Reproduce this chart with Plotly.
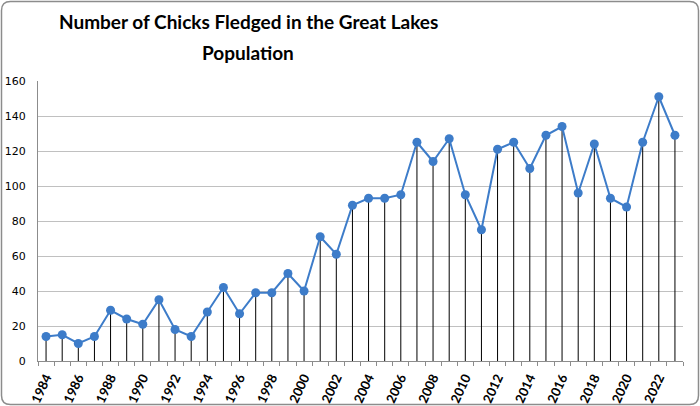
import plotly.graph_objects as go

years = list(range(1984, 2024))
chicks = [14, 15, 10, 14, 29, 24, 21, 35, 18, 14, 28, 42, 27, 39, 39, 50, 40, 71, 61, 89,
          93, 93, 95, 125, 114, 127, 95, 75, 121, 125, 110, 129, 134, 96, 124, 93, 88, 125, 151, 129]
tick_years = list(range(1984, 2024, 2))
title_lines = ["Number of Chicks Fledged in the Great Lakes", "Population"]

W, H = 700, 406
ml, mr, mt, mb = 38, 17, 81, 45
pw, ph = W - ml - mr, H - mt - mb

def px2paper(x, y):
    return (x - ml) / pw, (H - mb - y) / ph

fig = go.Figure()

# drop lines from each point to the axis
dx, dy = [], []
for xv, yv in zip(years, chicks):
    dx += [xv, xv, None]
    dy += [0, yv, None]
fig.add_trace(go.Scatter(x=dx, y=dy, mode="lines", line=dict(color="black", width=1),
                         hoverinfo="skip", showlegend=False))

fig.add_trace(go.Scatter(x=years, y=chicks, mode="lines+markers",
                         line=dict(color="#3d7cc9", width=2),
                         marker=dict(color="#3d7cc9", size=9),
                         showlegend=False))

# rounded border around the whole chart
r = 9
x0, y0, x1, y1 = 1.5, 1.5, 698.5, 404.5
def P(x, y):
    a, b = px2paper(x, y)
    return f"{a:.5f},{b:.5f}"
path = (f"M {P(x0 + r, y0)} L {P(x1 - r, y0)} Q {P(x1, y0)} {P(x1, y0 + r)} "
        f"L {P(x1, y1 - r)} Q {P(x1, y1)} {P(x1 - r, y1)} "
        f"L {P(x0 + r, y1)} Q {P(x0, y1)} {P(x0, y1 - r)} "
        f"L {P(x0, y0 + r)} Q {P(x0, y0)} {P(x0 + r, y0)} Z")
fig.add_shape(type="path", path=path, xref="paper", yref="paper",
              line=dict(color="#8c8c8c", width=1.5), layer="above")

# title as two centred lines
for txt, cy in zip(title_lines, [21, 53]):
    ax, ay = px2paper(248, cy)
    fig.add_annotation(text=f"<b>{txt}</b>", x=ax, y=ay, xref="paper", yref="paper",
                       xanchor="center", yanchor="middle", showarrow=False,
                       font=dict(family="Lato, Roboto, sans-serif", size=19, color="black"))

fig.update_layout(
    width=W, height=H,
    margin=dict(l=ml, r=mr, t=mt, b=mb),
    paper_bgcolor="white", plot_bgcolor="white",
    xaxis=dict(range=[1983.5, 2023.5], tickmode="array", tickvals=tick_years,
               ticktext=[str(t) for t in tick_years], tickangle=-65, automargin=False,
               showgrid=False, zeroline=False, showline=True, linecolor="#8c8c8c", linewidth=1,
               ticks="", ticklabelstandoff=3,
               tickfont=dict(family="Lato, Roboto, sans-serif", size=13, color="black", weight="bold"),
               minor=dict(tickmode="linear", tick0=1983.5, dtick=1, ticks="outside", ticklen=4,
                          tickcolor="#8c8c8c", showgrid=False)),
    yaxis=dict(range=[0, 160], dtick=20, showgrid=True, gridcolor="#c0c0c0", gridwidth=1,
               zeroline=False, showline=True, linecolor="#8c8c8c", linewidth=1,
               ticks="", ticklabelstandoff=9, automargin=False,
               tickfont=dict(family="DejaVu Sans", size=11, color="black")),
)

fig.write_html("out.html")
